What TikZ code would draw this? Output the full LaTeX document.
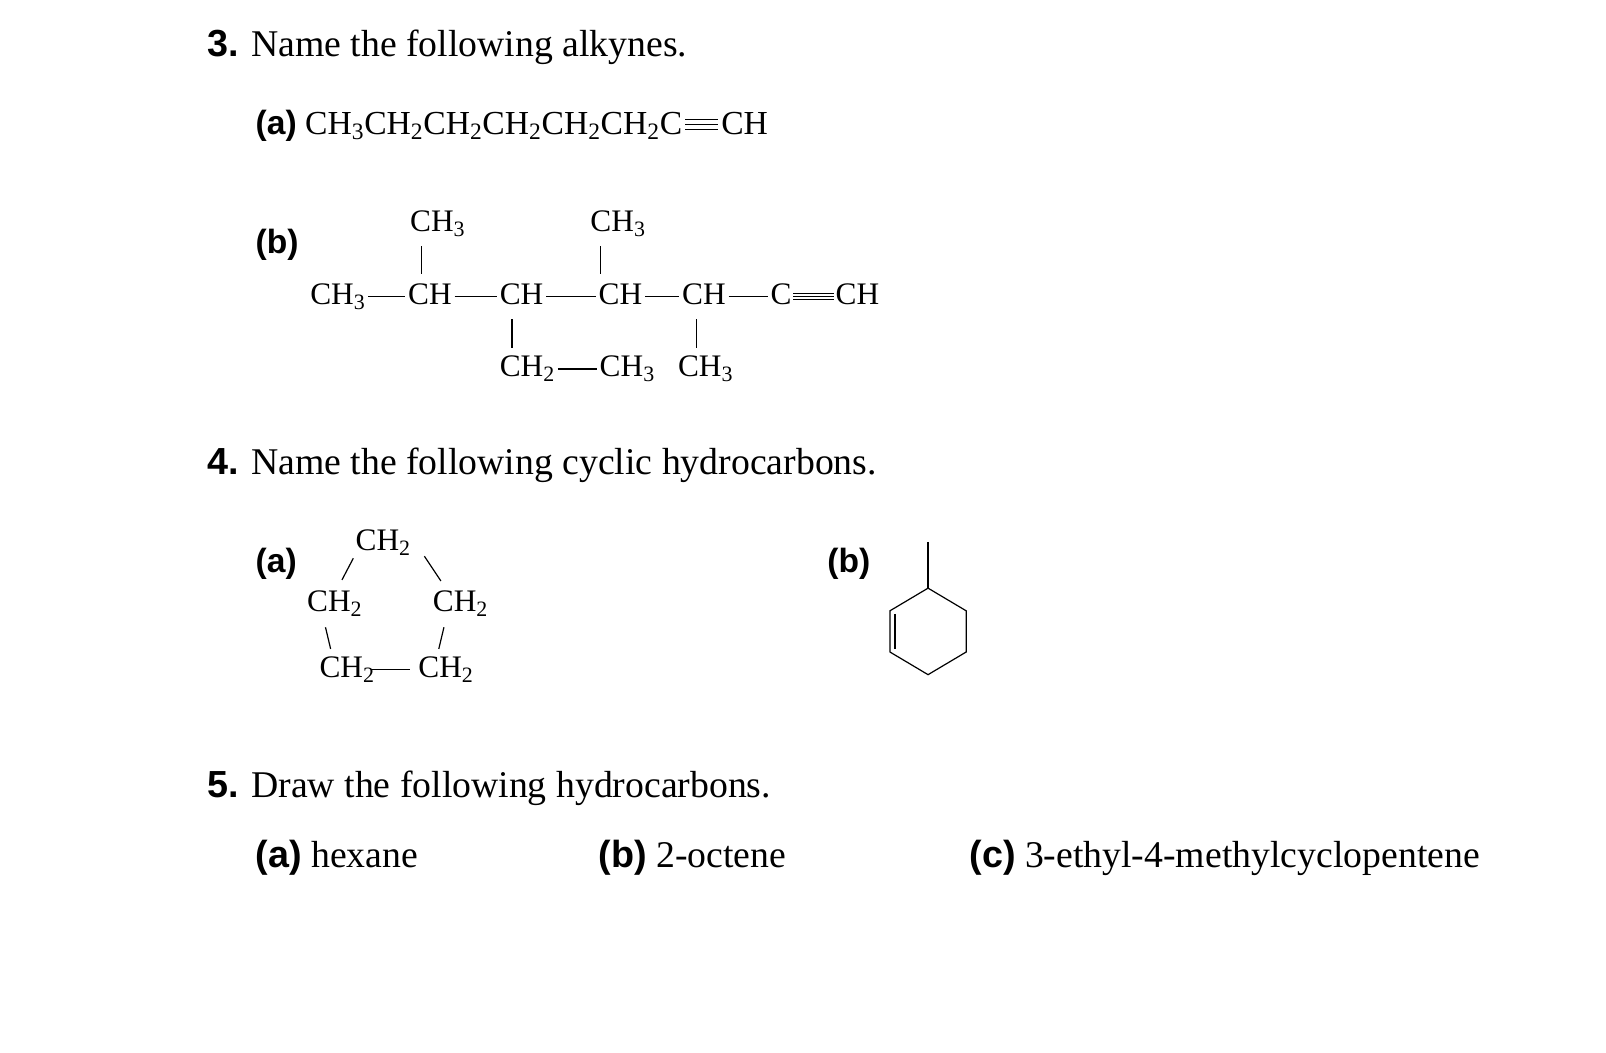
\documentclass[tikz,border=0pt]{standalone}
\usepackage{fontspec}
\setmainfont{Liberation Serif}
\newfontfamily\lbl{Liberation Sans}
\tikzset{
 t/.style={anchor=base west,inner sep=0pt,font=\fontsize{25.2}{28}\selectfont},
 hd/.style={anchor=base west,inner sep=0pt,font=\fontsize{28.3}{30}\selectfont},
 ch/.style={anchor=base west,inner sep=0pt,font=\fontsize{23.5}{26}\selectfont},
 bond/.style={line width=0.9pt},
}
\newcommand{\lb}[1]{{\lbl\bfseries #1}}
\newcommand{\sbs}[1]{\textsubscript{#1}}
\begin{document}
\begin{tikzpicture}[x=0.7725pt,y=-0.7725pt]
\useasboundingbox (0,0) rectangle (1559.2,1021.4);
\node[hd] (h3) at (201,55) {\lb{3.} Name the following alkynes.};
\node[t] (a3) at (248,131) {\lb{(a)} CH\sbs{3}CH\sbs{2}CH\sbs{2}CH\sbs{2}CH\sbs{2}CH\sbs{2}C};
\node[t] (a3e) at (700,131) {CH};
\foreach \d in {-5,0,5} \draw[bond] ([xshift=2pt,yshift=8pt+\d*0.75pt]a3.base east) -- ([xshift=-2pt,yshift=8pt+\d*0.75pt]a3e.base west);
% (b)
\node[t] (b3) at (248,246) {\lb{(b)}};
\node[ch] (c1) at (301,296) {CH\sbs{3}};
\node[ch] (c2) at (396,296) {CH};
\node[ch] (c3) at (485,296) {CH};
\node[ch] (c4) at (581,296) {CH};
\node[ch] (c5) at (662,296) {CH};
\node[ch] (c6) at (748,296) {C};
\node[ch] (c7) at (811,296) {CH};
\node[ch] (m1) at (398,225) {CH\sbs{3}};
\node[ch] (m2) at (573,225) {CH\sbs{3}};
\node[ch] (e1) at (485,366) {CH\sbs{2}};
\node[ch] (e2) at (582,366) {CH\sbs{3}};
\node[ch] (m3) at (658,366) {CH\sbs{3}};
\foreach \a/\b in {c1/c2,c2/c3,c3/c4,c4/c5,c5/c6,e1/e2}
 \draw[bond] ([xshift=2pt,yshift=6pt]\a.base east) -- ([xshift=-2pt,yshift=6pt]\b.base west);
\foreach \d in {-3,0,3} \draw[bond] ([xshift=1pt,yshift=6pt+\d*0.75pt]c6.base east) -- ([xshift=-1pt,yshift=6pt+\d*0.75pt]c7.base west);
\draw[bond] (409,239) -- (409,266);
\draw[bond] (583,239) -- (583,266);
\draw[bond] (497,310) -- (497,338);
\draw[bond] (676,310) -- (676,338);
% 4
\node[hd] (h4) at (201,461) {\lb{4.} Name the following cyclic hydrocarbons.};
\node[t] (a4) at (248,556) {\lb{(a)}};
\node[t] (b4) at (803,556) {\lb{(b)}};
\node[ch] (r1) at (345,534) {CH\sbs{2}};
\node[ch] (r2) at (298,594) {CH\sbs{2}};
\node[ch] (r3) at (420,594) {CH\sbs{2}};
\node[ch] (r4) at (310,658) {CH\sbs{2}};
\node[ch] (r5) at (406,658) {CH\sbs{2}};
\draw[bond] (343,542) -- (332,563);
\draw[bond] (412,540) -- (428,564);
\draw[bond] (316,609) -- (321,630);
\draw[bond] (431,609) -- (426,630);
\draw[bond] (360,650) -- (398,650);
% cyclohexene
\coordinate (p1) at (901,526);
\coordinate (v1) at (901,571);
\coordinate (v2) at (938,593);
\coordinate (v3) at (938,633);
\coordinate (v4) at (901,655);
\coordinate (v5) at (864,633);
\coordinate (v6) at (864,593);
\draw[bond] (p1) -- (v1);
\draw[bond] (v1) -- (v2) -- (v3) -- (v4) -- (v5) -- (v6) -- cycle;
\draw[bond] (869,596) -- (869,630);
% 5
\node[hd] (h5) at (201,774) {\lb{5.} Draw the following hydrocarbons.};
\node[hd] (a5) at (248,842) {\lb{(a)} hexane};
\node[hd] (b5) at (581,842) {\lb{(b)} 2-octene};
\node[hd] (c5x) at (941,842) {\lb{(c)} 3-ethyl-4-methylcyclopentene};
\end{tikzpicture}
\end{document}
